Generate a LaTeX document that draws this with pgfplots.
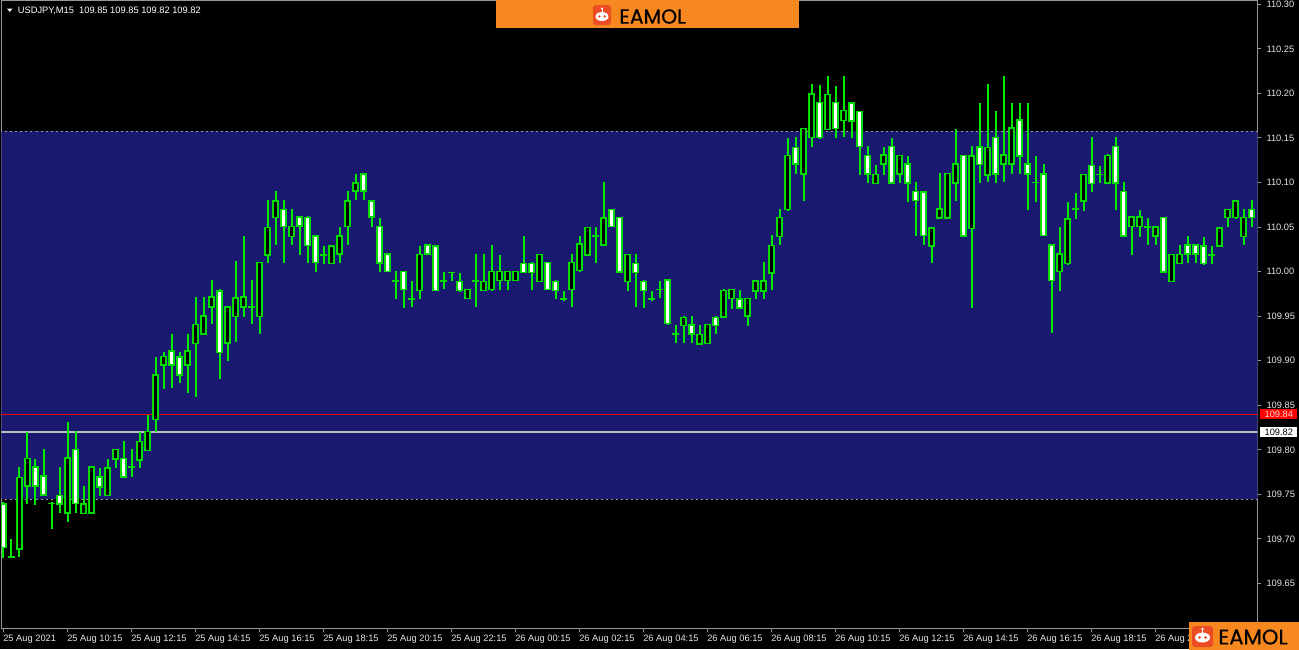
\documentclass[border=0pt]{standalone}
\usepackage{pgfplots}
\pgfplotsset{compat=1.18}
\usepackage{pgfplotstable}
\usepackage{fontspec}
\setmainfont{Liberation Sans}
\newfontfamily\logofont{Poppins}[FakeBold=0.6]

\definecolor{cgreen}{RGB}{0,220,0}
\definecolor{wgreen}{RGB}{0,235,0}
\definecolor{zone}{RGB}{25,25,112}
\definecolor{framegray}{RGB}{150,150,150}
\definecolor{dotgray}{RGB}{150,150,165}
\definecolor{bidgray}{RGB}{190,190,190}
\definecolor{logoorange}{RGB}{247,136,31}
\definecolor{iconred}{RGB}{236,76,36}

% USDJPY M15 candles: index, open, high, low, close
\pgfplotstableread{
i o h l c
0 109.740 109.742 109.680 109.691
1 109.681 109.701 109.680 109.681
2 109.690 109.781 109.680 109.770
3 109.760 109.821 109.740 109.791
4 109.781 109.791 109.740 109.760
5 109.771 109.801 109.749 109.750
6 109.740 109.741 109.711 109.740
7 109.750 109.781 109.729 109.740
8 109.729 109.831 109.719 109.791
9 109.801 109.821 109.729 109.740
10 109.729 109.760 109.729 109.740
11 109.729 109.782 109.729 109.781
12 109.771 109.781 109.750 109.760
13 109.750 109.791 109.749 109.781
14 109.790 109.802 109.781 109.801
15 109.791 109.811 109.769 109.770
16 109.781 109.801 109.770 109.781
17 109.790 109.821 109.781 109.811
18 109.800 109.841 109.800 109.821
19 109.835 109.905 109.821 109.885
20 109.895 109.911 109.870 109.905
21 109.911 109.931 109.870 109.895
22 109.905 109.910 109.875 109.885
23 109.895 109.931 109.865 109.911
24 109.920 109.972 109.860 109.941
25 109.931 109.972 109.930 109.951
26 109.960 109.991 109.941 109.971
27 109.980 109.981 109.880 109.911
28 109.920 109.961 109.901 109.960
29 109.950 110.011 109.920 109.971
30 109.960 110.041 109.950 109.971
31 109.960 109.991 109.941 109.960
32 109.950 110.012 109.931 110.011
33 110.020 110.081 110.010 110.051
34 110.061 110.091 110.030 110.080
35 110.070 110.080 110.010 110.051
36 110.040 110.070 110.030 110.051
37 110.061 110.062 110.020 110.051
38 110.061 110.062 110.010 110.030
39 110.040 110.041 110.000 110.010
40 110.020 110.030 110.010 110.020
41 110.010 110.031 110.009 110.030
42 110.020 110.051 110.010 110.040
43 110.051 110.091 110.030 110.080
44 110.091 110.111 110.081 110.100
45 110.110 110.111 110.081 110.091
46 110.079 110.080 110.050 110.061
47 110.051 110.061 110.000 110.010
48 110.020 110.021 109.999 110.000
49 109.990 110.001 109.970 109.990
50 110.000 110.001 109.960 109.980
51 109.970 109.990 109.960 109.970
52 109.980 110.030 109.970 110.020
53 110.030 110.031 110.019 110.020
54 110.030 110.031 109.979 109.980
55 109.990 110.000 109.980 109.990
56 110.000 110.000 109.990 110.000
57 109.990 110.000 109.979 109.980
58 109.970 109.981 109.969 109.980
59 109.990 110.020 109.960 109.990
60 109.980 110.020 109.979 109.990
61 109.980 110.030 109.979 110.000
62 109.990 110.020 109.980 110.000
63 109.990 110.001 109.980 110.000
64 109.990 110.001 109.989 110.000
65 110.010 110.041 109.999 110.000
66 110.010 110.011 109.980 110.000
67 109.990 110.021 109.989 110.020
68 110.010 110.011 109.979 109.980
69 109.990 109.991 109.970 109.980
70 109.970 109.980 109.969 109.970
71 109.980 110.020 109.960 110.010
72 110.001 110.041 110.000 110.031
73 110.020 110.052 110.019 110.051
74 110.041 110.051 110.010 110.041
75 110.031 110.100 110.030 110.061
76 110.070 110.071 110.050 110.051
77 110.061 110.062 109.999 110.000
78 109.990 110.021 109.980 110.020
79 110.010 110.020 109.960 110.000
80 109.990 109.991 109.960 109.980
81 109.970 109.980 109.969 109.970
82 109.980 109.990 109.970 109.980
83 109.990 109.991 109.940 109.941
84 109.931 109.941 109.920 109.931
85 109.941 109.951 109.920 109.950
86 109.941 109.950 109.920 109.931
87 109.920 109.941 109.919 109.931
88 109.920 109.942 109.919 109.941
89 109.950 109.951 109.931 109.941
90 109.950 109.981 109.949 109.980
91 109.970 109.981 109.959 109.980
92 109.970 109.980 109.959 109.960
93 109.950 109.971 109.940 109.970
94 109.979 109.991 109.970 109.990
95 109.979 110.011 109.970 109.990
96 110.000 110.041 109.979 110.031
97 110.040 110.070 110.030 110.061
98 110.070 110.151 110.069 110.131
99 110.140 110.151 110.110 110.121
100 110.110 110.162 110.080 110.161
101 110.151 110.210 110.140 110.200
102 110.190 110.210 110.150 110.151
103 110.161 110.220 110.160 110.200
104 110.190 110.210 110.151 110.161
105 110.170 110.220 110.151 110.181
106 110.190 110.191 110.151 110.170
107 110.180 110.181 110.110 110.141
108 110.131 110.141 110.100 110.110
109 110.100 110.121 110.099 110.110
110 110.121 110.141 110.110 110.131
111 110.141 110.151 110.099 110.100
112 110.110 110.132 110.100 110.131
113 110.121 110.131 110.080 110.100
114 110.090 110.100 110.040 110.080
115 110.090 110.091 110.030 110.041
116 110.030 110.051 110.010 110.050
117 110.060 110.110 110.059 110.070
118 110.060 110.111 110.059 110.110
119 110.100 110.161 110.080 110.121
120 110.131 110.132 110.040 110.041
121 110.050 110.141 109.959 110.131
122 110.141 110.190 110.100 110.121
123 110.110 110.210 110.100 110.141
124 110.151 110.181 110.100 110.110
125 110.121 110.220 110.100 110.131
126 110.121 110.190 110.110 110.161
127 110.171 110.190 110.110 110.131
128 110.121 110.190 110.070 110.110
129 110.100 110.131 110.080 110.100
130 110.110 110.121 110.040 110.041
131 110.030 110.031 109.931 109.990
132 110.000 110.050 109.979 110.020
133 110.010 110.080 110.009 110.060
134 110.070 110.089 110.060 110.070
135 110.080 110.111 110.070 110.110
136 110.120 110.151 110.090 110.100
137 110.110 110.120 110.100 110.110
138 110.100 110.132 110.099 110.131
139 110.141 110.151 110.070 110.100
140 110.090 110.100 110.039 110.040
141 110.050 110.062 110.020 110.061
142 110.050 110.070 110.040 110.061
143 110.050 110.061 110.030 110.050
144 110.040 110.051 110.030 110.050
145 110.061 110.062 109.999 110.000
146 109.990 110.021 109.989 110.020
147 110.010 110.030 110.009 110.020
148 110.030 110.040 110.010 110.020
149 110.030 110.031 110.010 110.020
150 110.030 110.040 110.009 110.010
151 110.020 110.030 110.010 110.020
152 110.030 110.051 110.029 110.050
153 110.061 110.071 110.050 110.070
154 110.061 110.081 110.060 110.080
155 110.040 110.070 110.030 110.061
156 110.070 110.080 110.050 110.061
}\candles

\begin{document}
\begin{tikzpicture}
\fill[black] (0,0) rectangle (649.5pt,-324.5pt);
\begin{axis}[
  at={(0.75pt,-0.25pt)}, anchor=north west,
  width=628pt, height=314pt, scale only axis,
  xmin=-0.25, xmax=156.75, ymin=109.5995, ymax=110.3042,
  axis line style={draw=framegray, line width=0.6pt},
  tick style={draw=framegray, line width=0.5pt},
  tick align=outside, major tick length=1.5pt,
  xtick pos=bottom, ytick pos=right, yticklabel pos=right,
  xtick={0,8,...,144},
  xticklabels={25 Aug 2021, 25 Aug 10:15, 25 Aug 12:15, 25 Aug 14:15,
    25 Aug 16:15, 25 Aug 18:15, 25 Aug 20:15, 25 Aug 22:15,
    26 Aug 00:15, 26 Aug 02:15, 26 Aug 04:15, 26 Aug 06:15,
    26 Aug 08:15, 26 Aug 10:15, 26 Aug 12:15, 26 Aug 14:15,
    26 Aug 16:15, 26 Aug 18:15, 26 Aug 20:15},
  ytick={109.65,109.70,109.75,109.80,109.85,109.90,109.95,110.00,
    110.05,110.10,110.15,110.20,110.25,110.30},
  yticklabels={109.65,109.70,109.75,109.80,109.85,109.90,109.95,110.00,
    110.05,110.10,110.15,110.20,110.25,110.30},
  tick label style={font=\fontsize{4.65}{5}\selectfont, text=white!90!black, inner sep=0pt},
  xticklabel style={anchor=north west, yshift=-1.4pt, xshift=-0.3pt},
  yticklabel style={anchor=west, xshift=2.8pt},
]
% rectangle zone and horizontal lines
\addplot[fill=zone, draw=none, forget plot] coordinates
  {(-1,109.7447) (158,109.7447) (158,110.1577) (-1,110.1577)} -- cycle;
\addplot[dotgray, line width=0.5pt, dash pattern=on 1pt off 1.5pt, forget plot]
  coordinates {(-1,110.1577) (158,110.1577)};
\addplot[dotgray, line width=0.5pt, dash pattern=on 1pt off 1.5pt, forget plot]
  coordinates {(-1,109.7447) (158,109.7447)};
\addplot[red, line width=0.6pt, forget plot] coordinates {(-1,109.84) (158,109.84)};
\addplot[bidgray, line width=0.6pt, forget plot] coordinates {(-1,109.82) (158,109.82)};

% wicks
\addplot[draw=none, mark=none, forget plot,
  error bars/.cd, y dir=both, y explicit, error mark=none,
  error bar style={draw=wgreen, line width=1pt}]
  table[x=i, y expr={(\thisrow{h}+\thisrow{l})/2},
    y error expr={(\thisrow{h}-\thisrow{l})/2}] \candles;
% body outline
\addplot[draw=none, mark=none, forget plot,
  error bars/.cd, y dir=both, y explicit, error mark=none,
  error bar style={color=cgreen, line width=3.3pt}]
  table[x=i, y expr={(\thisrow{o}+\thisrow{c})/2},
    y error expr={abs(\thisrow{o}-\thisrow{c})/2+0.00084}] \candles;
% body fill: black for bull
\addplot[draw=none, mark=none, forget plot,
  error bars/.cd, y dir=both, y explicit, error mark=none,
  error bar style={color=black, line width=1.75pt}]
  table[x=i, y expr={(\thisrow{o}+\thisrow{c})/2},
    y error expr={max(abs(\thisrow{o}-\thisrow{c})/2-0.00084,0)}] \candles;
% body fill: white for bear
\addplot[draw=none, mark=none, forget plot,
  error bars/.cd, y dir=both, y explicit, error mark=none,
  error bar style={color=white, line width=1.75pt}]
  table[x=i, y expr={(\thisrow{o}+\thisrow{c})/2},
    y error expr={(\thisrow{o}>\thisrow{c})*max(abs(\thisrow{o}-\thisrow{c})/2-0.00084,0)}] \candles;

\coordinate (t84) at (axis cs:156.75,109.84);
\coordinate (t82) at (axis cs:156.75,109.82);
\end{axis}

\node[anchor=west, xshift=1.2pt, fill=red, text=white!85!red, minimum width=18.5pt,
  minimum height=5pt, inner sep=0pt, font=\fontsize{4.65}{5}\selectfont] at (t84) {109.84};
\node[anchor=west, xshift=1.2pt, fill=white, text=black, minimum width=18.5pt,
  minimum height=5pt, inner sep=0pt, font=\fontsize{4.65}{5}\selectfont] at (t82) {109.82};

\begin{scope}[x=0.5pt, y=-0.5pt]
  % title
  \fill[white] (7,8.5) -- (12.5,8.5) -- (9.75,12) -- cycle;
  \node[anchor=west, inner sep=0pt, text=white, font=\fontsize{4.65}{5}\selectfont]
    at (17.5,10.5) {USDJPY,M15\ \ 109.85 109.85 109.82 109.82};
  % top logo
  \fill[logoorange] (496,0) rectangle (799,28);
  \fill[iconred, rounded corners=1.5pt] (593,5) rectangle (611,25);
  \fill[white] (602,16.5) ellipse (6.5 and 4.5);
  \fill[iconred] (599.3,16.5) circle (1.3);
  \fill[iconred] (604.7,16.5) circle (1.3);
  \draw[white, line width=0.5pt] (602,12) -- (602,8.5);
  \fill[white] (602,8.5) circle (1.2);
  \node[anchor=west, inner sep=0pt, text=black, font=\logofont\fontsize{10.2}{10}\selectfont]
    at (619,16.5) {EAMOL};
  % bottom-right logo
  \fill[logoorange] (1189,622) rectangle (1300,650);
  \fill[iconred, rounded corners=1.5pt] (1192,626) rectangle (1213,647);
  \fill[white] (1202.5,637.5) ellipse (7.5 and 5);
  \fill[iconred] (1199.5,637.5) circle (1.5);
  \fill[iconred] (1205.5,637.5) circle (1.5);
  \draw[white, line width=0.5pt] (1202.5,632.5) -- (1202.5,629);
  \fill[white] (1202.5,629) circle (1.3);
  \node[anchor=west, inner sep=0pt, text=black, font=\logofont\fontsize{10.6}{11}\selectfont]
    at (1218,637) {EAMOL};
\end{scope}
\pgfresetboundingbox
\path (0,0) rectangle (649.5pt,-324.5pt);
\end{tikzpicture}
\end{document}
